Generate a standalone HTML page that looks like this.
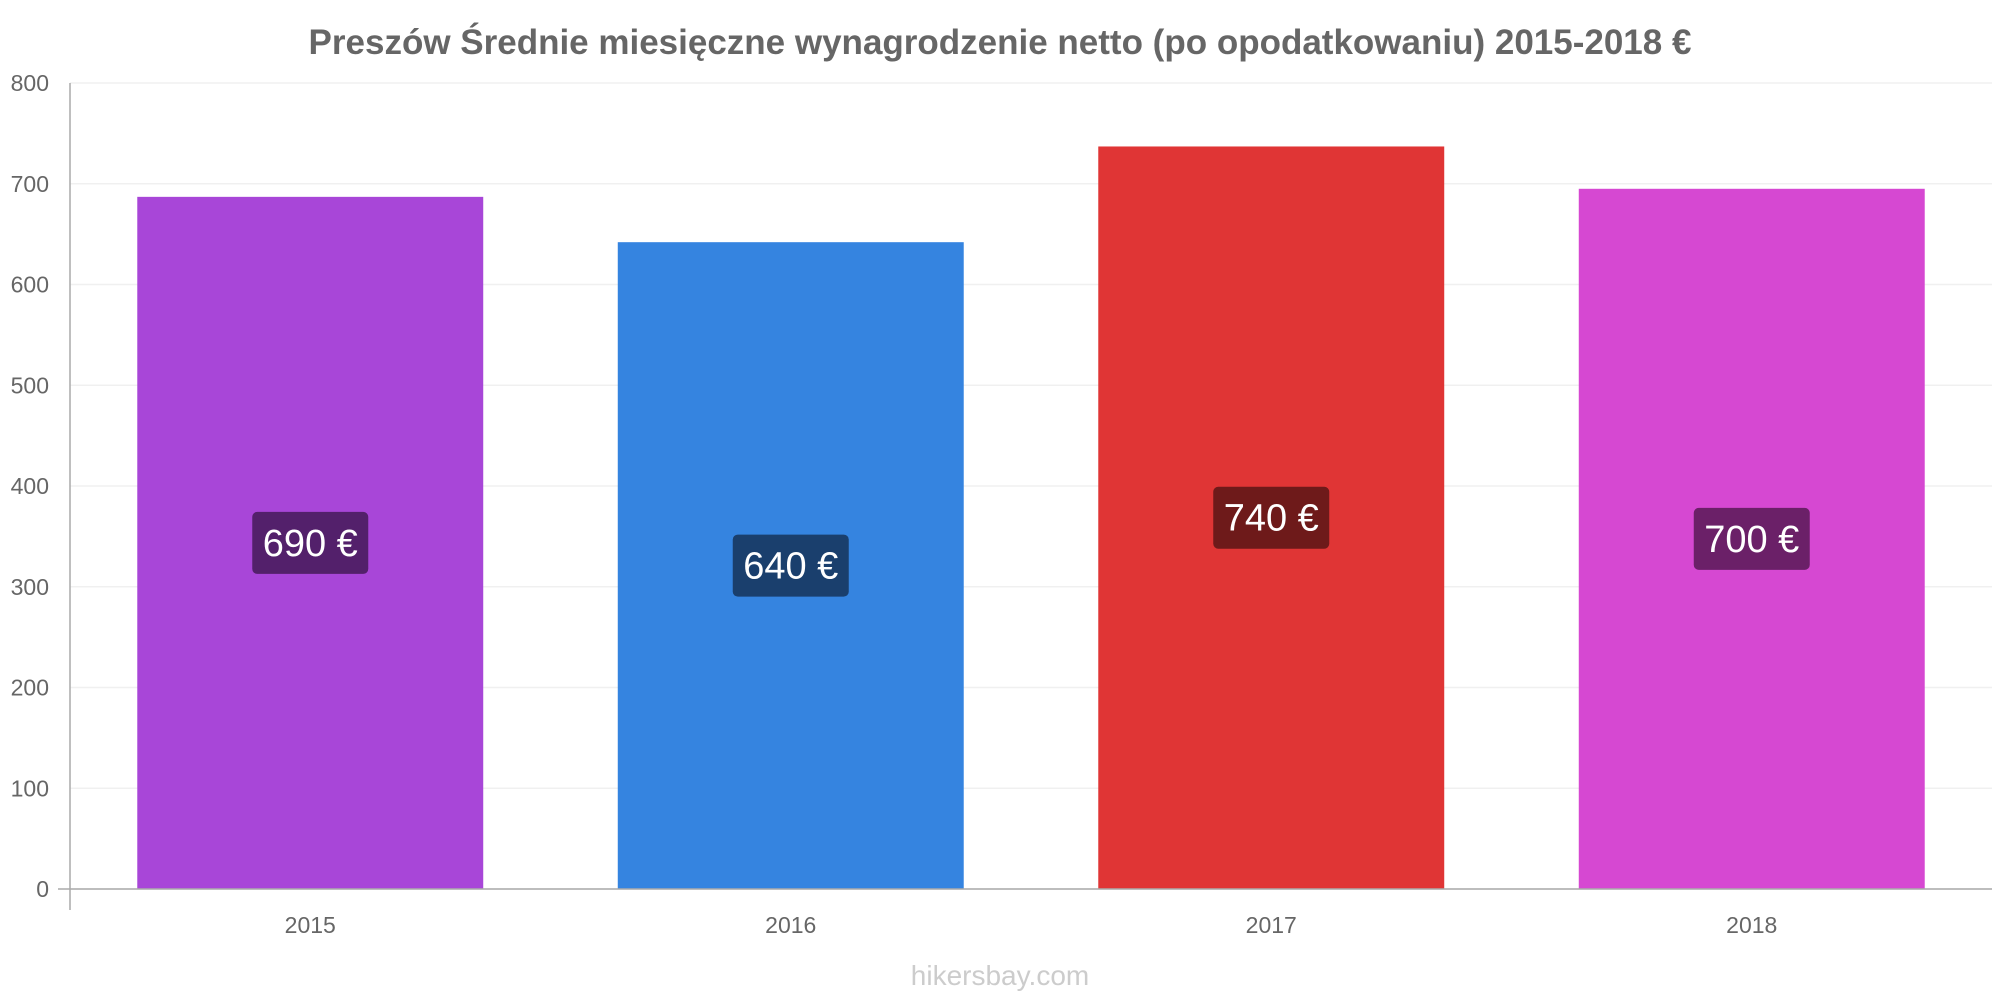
<!DOCTYPE html>
<html><head><meta charset="utf-8"><style>
body{margin:0;background:#fff;font-family:"Liberation Sans",sans-serif}
svg text{font-family:"Liberation Sans",sans-serif}
</style></head><body>
<svg width="2000" height="1000">
<text x="1000" y="54" text-anchor="middle" font-size="35" font-weight="bold" fill="#666">Preszów Średnie miesięczne wynagrodzenie netto (po opodatkowaniu) 2015-2018 €</text>
<g id="grid"></g><g id="bars"></g>
<line x1="70" y1="83" x2="70" y2="910" stroke="#aaa" stroke-width="1.5"/>
<line x1="58" y1="889" x2="1992" y2="889" stroke="#aaa" stroke-width="1.5"/>
<text x="1000" y="985" text-anchor="middle" font-size="28" fill="#ccc">hikersbay.com</text>
</svg>
<script>
const categories=["2015","2016","2017","2018"];
const values=[687,642,737,695];
const labels=["690 €","640 €","740 €","700 €"];
const yTicks=[0,100,200,300,400,500,600,700,800];
const colors=["#a846d8","#3584e0","#e03535","#d648d2"];
const labelColors=["#53206b","#1a3f6d","#6e1a1a","#6b2068"];
const NS="http://www.w3.org/2000/svg";
const x0=70,x1=1992,y0=889,yTop=83;
const y=v=>y0-(v/800)*(y0-yTop);
const band=(x1-x0)/categories.length;
const g=document.getElementById("grid"),b=document.getElementById("bars");
function mk(t,a,p){const e=document.createElementNS(NS,t);for(const k in a)e.setAttribute(k,a[k]);p.appendChild(e);return e;}
yTicks.forEach(t=>{
 const l=mk("line",{x1:x0,x2:x1,y1:y(t),y2:y(t),stroke:"#f0f0f0","stroke-width":1.5},g);
 
 
 const tk=mk("text",{x:49,y:y(t)+8,"text-anchor":"end","font-size":23,fill:"#666"},g);
 tk.textContent=t;
 
 
});
categories.forEach((c,i)=>{
 const cx=x0+band*(i+0.5),w=band*0.72;
 const r=mk("rect",{x:cx-w/2,y:y(values[i]),width:w,height:y0-y(values[i]),fill:colors[i]},b);
 
 
 const my=(y(values[i])+y0)/2;
 const lb=mk("rect",{x:cx-58,y:my-31,width:116,height:62,rx:5,fill:labelColors[i]},b);
 
 
 const lt=mk("text",{x:cx,y:my+13,"text-anchor":"middle","font-size":38,fill:"#fff"},b);
 lt.textContent=labels[i];
 
 
 const xt=mk("text",{x:cx,y:933,"text-anchor":"middle","font-size":23,fill:"#666"},b);
 xt.textContent=c;
 
 
});
</script>
</body></html>
